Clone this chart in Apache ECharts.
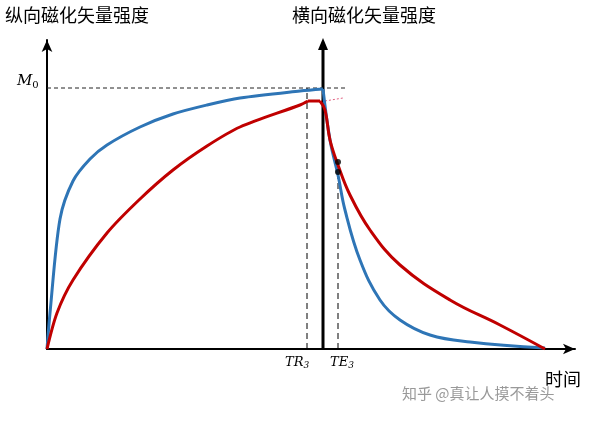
<!DOCTYPE html><html><head><meta charset="utf-8"><script src="https://cdn.jsdelivr.net/npm/echarts@6/dist/echarts.min.js"></script></head><body style="margin:0"><div id="c" style="width:600px;height:421px"></div><script>
// data in pixel-like units: x offset from origin, y height above baseline
const blueX=[0,3,13,26,43,60,93,126,160,193,253,276];
const blueY=[0,36,130,168,190,204,222,235,244,251,258,260];
const blueDecX=[276,283,291,298,313,333,353,383,423,498];
const blueDecY=[260,209,174,139,89,49,29,14,7,1];
const redX=[0,10,26,60,93,126,160,193,253,261];
const redY=[0,36,69,116,150,179,203,222,244,248];
const redDecX=[273,278,283,291,303,323,353,403,453,498];
const redDecY=[248,239,209,184,154,119,84,49,24,0];
const dotX=[291,291], dotY=[187,177];
const c=echarts.init(document.getElementById('c'));
const pts=(xs,ys)=>xs.map((x,i)=>[x,ys[i]]);
const ln=(d,col,w,type,sm)=>({type:'line',data:d,symbol:'none',smooth:sm||false,lineStyle:{color:col,width:w,type:type},silent:true,z:3});
c.setOption({animation:false,
grid:{left:47,right:25,top:40,bottom:72},
xAxis:{type:'value',min:0,max:528,axisLine:{lineStyle:{color:'#000',width:2},symbol:['none','arrow'],symbolSize:[8,12]},axisTick:{show:false},axisLabel:{show:false},splitLine:{show:false}},
yAxis:{type:'value',min:0,max:309,axisLine:{show:true,lineStyle:{color:'#000',width:2},symbol:['none','arrow'],symbolSize:[8,12]},axisTick:{show:false},axisLabel:{show:false},splitLine:{show:false}},
series:[
ln([[0,261],[298,261]],'#222',1,[4,3]),
ln([[260,0],[260,261]],'#000',1,[6,4]),
ln([[291,0],[291,184]],'#000',1,[6,4]),
ln([[278,248],[296,251]],'#e06080',1,[2,2]),
ln([[276,0],[276,302]],'#000',3,'solid'),
ln(pts(blueX,blueY),'#2e75b6',3,'solid',0.3),
ln(pts(blueDecX,blueDecY),'#2e75b6',3,'solid',0.4),
ln(pts(redX,redY),'#c00000',3,'solid',0.3),
ln([[261,248],[273,248]],'#c00000',3,'solid'),
ln(pts(redDecX,redDecY),'#c00000',3,'solid',0.4),
{type:'scatter',data:pts(dotX,dotY),symbolSize:6,itemStyle:{color:'#000'},z:6}
],
graphic:[
{type:'polygon',shape:{points:[[323,38],[318,50],[328,50]]},style:{fill:'#000'}},
{type:'text',left:5,top:6,style:{text:'纵向磁化矢量强度',font:'18px "Noto Sans CJK SC"',fill:'#000'}},
{type:'text',left:292,top:6,style:{text:'横向磁化矢量强度',font:'18px "Noto Sans CJK SC"',fill:'#000'}},
{type:'text',left:17,top:74,style:{rich:{a:{font:'italic 15px "DejaVu Serif"'},b:{font:'10px "DejaVu Serif"',padding:[8,0,0,0]}},text:'{a|M}{b|0}'}},
{type:'text',left:285,top:356,style:{rich:{a:{font:'italic 13px "DejaVu Serif"'},b:{font:'italic 9px "DejaVu Serif"',padding:[6,0,0,0]}},text:'{a|TR}{b|3}'}},
{type:'text',left:330,top:356,style:{rich:{a:{font:'italic 13px "DejaVu Serif"'},b:{font:'italic 9px "DejaVu Serif"',padding:[6,0,0,0]}},text:'{a|TE}{b|3}'}},
{type:'text',left:545,top:370,style:{text:'时间',font:'18px "Noto Sans CJK SC"',fill:'#000'}},
{type:'text',left:402,top:386,style:{text:'知乎 @真让人摸不着头',font:'15px "Noto Sans CJK SC"',fill:'#999'}}
]});
</script></body></html>
